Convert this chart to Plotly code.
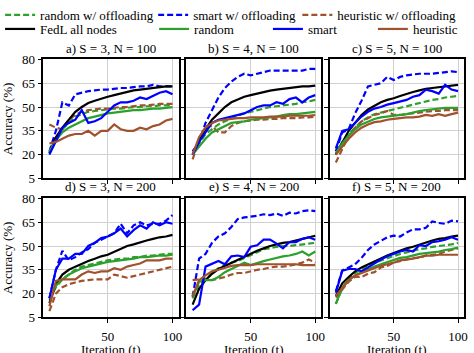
import plotly.graph_objects as go

# ---------------- data ----------------
T = [5, 10, 15, 20, 25, 30, 35, 40, 45, 50, 55, 60, 65, 70, 75, 80, 85, 90, 95, 100]

SERIES_NAMES = ["random w/ offloading", "smart w/ offloading", "heuristic w/ offloading",
                "FedL all nodes", "random", "smart", "heuristic"]
PANEL_TITLES = ["a) S = 3, N = 100", "b) S = 4, N = 100", "c) S = 5, N = 100",
                "d) S = 3, N = 200", "e) S = 4, N = 200", "f) S = 5, N = 200"]
Y_TICKS = [5, 20, 35, 50, 65, 80]
X_TICKS = [50, 100]
X_TITLE = "Iteration (t)"
Y_TITLE = "Accuracy (%)"

A_RANDOM_OFF = [21, 30, 36, 40, 44, 45.5, 47, 47.5, 48, 48.5, 49, 49, 49.5, 50, 50, 50.5, 50.5, 51, 51, 51]
A_SMART_OFF = [22, 35, 53, 51, 58, 59, 60, 60.5, 61, 61, 61.5, 62, 62, 62.5, 63, 63, 64, 63, 63, 63]
A_HEUR_OFF = [39, 37, 36, 42, 45, 47, 48, 48.5, 49, 49, 49.5, 50, 50, 50.5, 51, 51, 51.5, 52, 52, 52]
A_FEDL = [21, 31, 37, 42, 47, 50, 52.5, 54, 55.5, 56.5, 57.5, 58.5, 59.5, 60.5, 61, 61.5, 62, 62.5, 63, 63]
A_RANDOM = [22, 29, 34, 37, 39, 41, 43, 44, 45, 46, 46.5, 47, 47.5, 48, 48, 48.5, 49, 49, 49.5, 50]
A_SMART = [20, 28, 37, 40, 42, 48, 40, 41, 43, 47, 51, 53, 53, 54, 56, 55, 57, 59, 60, 58]
A_HEUR = [27, 28, 30, 32, 33, 33, 35, 32, 35, 35, 39, 36, 35, 35, 37, 36, 38, 39, 41.5, 42.5]

B_RANDOM_OFF = [20, 27, 33, 36, 39, 41, 43, 44.5, 46, 47, 48, 49, 50, 50.5, 51, 51.5, 52, 53, 53.5, 54.5]
B_SMART_OFF = [22, 28, 40, 48, 56, 62, 66, 69, 71, 70, 71, 72, 73, 73, 73, 73, 73, 73, 74, 74]
B_HEUR_OFF = [17, 29, 38, 38, 34, 34, 38, 40, 41, 41.5, 42, 42, 42.5, 42.5, 43, 43, 43, 43.5, 43.5, 44]
B_FEDL = [20, 29, 36, 42, 46, 50, 53, 55, 56.5, 57.5, 58.5, 59.5, 60.3, 61, 61.5, 62, 62.5, 63, 63, 63.5]
B_RANDOM = [20, 25, 30, 34, 36, 38, 40, 40.5, 41, 42, 42.5, 43, 43.5, 44, 45, 45.5, 45.5, 46, 46.5, 47]
B_SMART = [20, 28, 34, 40, 42, 43, 44, 45, 46, 48, 50, 51, 51, 53, 52, 55, 56, 53, 56, 57.5]
B_HEUR = [20, 31, 37, 40, 41.5, 42, 42.5, 43, 43, 43.5, 43.5, 43.5, 44, 44, 44, 44.5, 44.5, 44.5, 44.5, 45]

C_RANDOM_OFF = [20, 28, 33, 37, 41, 43.5, 45.5, 46.5, 47.5, 48.5, 49.5, 50.5, 51.5, 52.5, 53.5, 54.5, 55, 56, 56.5, 57]
C_SMART_OFF = [22, 34, 36, 46, 54, 63, 64, 65, 69, 67, 69, 70, 70.5, 71, 71, 71, 71.5, 72, 72.5, 72]
C_HEUR_OFF = [15, 24, 32, 37, 41, 43, 45, 46, 47.5, 45, 45, 45.5, 46, 46.5, 47, 47.5, 47.5, 48, 48, 48]
C_FEDL = [20, 28, 35, 40, 45, 48.5, 51, 53, 54.5, 55.5, 57, 58.5, 59.5, 60.5, 61.5, 62, 62.5, 63, 63.5, 64]
C_RANDOM = [21, 27, 32, 36, 39, 41, 42.5, 43.5, 44, 44.5, 45, 45.5, 46.5, 47.5, 48, 48.5, 49, 49.5, 49.5, 49.5]
C_SMART = [24, 35, 36, 40, 44, 47, 49, 50, 51.5, 52.5, 53.5, 54.5, 56.5, 57.5, 61, 60, 58.5, 64, 61, 60]
C_HEUR = [20, 25, 30, 34, 37, 39, 40.5, 41, 42, 42.5, 43, 43.5, 43.5, 44, 45, 44.5, 45.5, 44.5, 45.5, 46.5]

D_RANDOM_OFF = [16, 24, 29, 32, 35, 37, 38, 39, 40, 41, 41.5, 42, 42, 43, 43, 44, 44, 44.5, 45, 45]
D_SMART_OFF = [17, 35, 47, 41, 43, 46, 48, 52, 54, 56, 58, 64, 58, 63, 65, 63, 64, 64, 66, 69.5]
D_HEUR_OFF = [9, 20, 24, 26, 27, 28, 28.5, 29, 29, 29, 32, 31, 30, 31, 32, 33, 34, 35, 36, 37]
D_FEDL = [14, 26, 32, 35, 37, 39, 40.5, 42, 43.5, 44.5, 46.5, 48.5, 50, 51, 52.5, 53.5, 54.5, 55.5, 56, 57]
D_RANDOM = [17, 25, 29, 32, 34, 36, 37, 38, 39, 40, 40.5, 41, 41.5, 42, 43, 43, 43.5, 44, 44, 44.5]
D_SMART = [17, 35, 42, 42, 45, 45, 50, 52, 55, 56, 58, 61, 56, 60, 63, 61, 65, 63, 65, 64]
D_HEUR = [12, 28, 29, 29, 29, 32, 34, 33, 34, 34, 36, 35, 37, 38, 39, 41, 41, 41, 42, 42]

E_RANDOM_OFF = [17, 26, 28.5, 33, 36, 38, 39.5, 40.5, 42.5, 44.5, 46.5, 48, 48.5, 49.5, 50, 50, 50.5, 51, 51.5, 52]
E_SMART_OFF = [18, 42, 45, 52, 56, 58, 62, 67, 68, 68.5, 69, 70, 69.5, 70.5, 69, 71, 70.5, 72, 72.5, 72]
E_HEUR_OFF = [28.5, 29, 29.5, 28.5, 29.5, 30.5, 32, 33, 33, 34, 35, 35.5, 36.5, 37, 37, 37.5, 38.5, 39.5, 41.5, 39.5]
E_FEDL = [13, 23, 28.5, 32.5, 35.5, 37.5, 39.5, 41.5, 43, 45.5, 47, 48.5, 50, 51, 52, 52.5, 53.5, 54.5, 55.5, 56.5]
E_RANDOM = [18, 27.5, 28.5, 28.5, 30.5, 33.5, 35.5, 37.5, 39.5, 38, 39.5, 40.5, 41.5, 42.5, 43.5, 44, 45, 46.5, 44, 46.5]
E_SMART = [9.5, 13, 37, 38.5, 40.5, 38.5, 43.5, 44, 43, 49.5, 50.5, 54, 54, 51.5, 48.5, 52.5, 52.5, 54.5, 55.5, 54]
E_HEUR = [18.5, 28.5, 31.5, 34, 35, 36.5, 37.5, 38, 38, 38, 38.5, 38.5, 38.5, 38.5, 38.5, 38.5, 38.5, 38, 38, 38]

F_RANDOM_OFF = [13.5, 23.5, 29.5, 33, 35.5, 38, 39.5, 41, 42.5, 44, 45, 46, 47, 48, 48.5, 49.5, 50, 50.5, 51, 52]
F_SMART_OFF = [21.5, 34.5, 36.5, 38.5, 42.5, 47.5, 51, 53.5, 55.5, 56.5, 56, 58.5, 60.5, 60.5, 61.5, 65.5, 64.5, 64, 66, 65.5]
F_HEUR_OFF = [17.5, 22.5, 27.5, 30.5, 30.5, 32.5, 33.5, 36.5, 37.5, 39.5, 40.5, 41.5, 42.5, 42.5, 44, 44.5, 45, 46.5, 47.5, 48.5]
F_FEDL = [18.5, 26.5, 30.5, 34, 36.5, 38.5, 40.5, 42.5, 44, 45.5, 47, 48.5, 49.5, 51, 52.5, 53.5, 54.5, 55, 56, 56.5]
F_RANDOM = [13.5, 23.5, 28.5, 31.5, 33.5, 35.5, 37, 38.5, 40, 41.5, 42.5, 43, 44, 45, 45.5, 46, 46.5, 47.5, 48, 49]
F_SMART = [20.5, 34.5, 35.5, 35.5, 34, 36.5, 39.5, 41.5, 43.5, 45, 46.5, 47.5, 46.5, 50.5, 50, 52.5, 53, 54, 55.5, 54]
F_HEUR = [18.5, 23.5, 28.5, 31.5, 33, 35, 36.5, 37.5, 38.5, 39.5, 41, 41.5, 42, 43, 44, 44, 44.5, 44.5, 44.5, 44.5]

PANELS = [
    [A_RANDOM_OFF, A_SMART_OFF, A_HEUR_OFF, A_FEDL, A_RANDOM, A_SMART, A_HEUR],
    [B_RANDOM_OFF, B_SMART_OFF, B_HEUR_OFF, B_FEDL, B_RANDOM, B_SMART, B_HEUR],
    [C_RANDOM_OFF, C_SMART_OFF, C_HEUR_OFF, C_FEDL, C_RANDOM, C_SMART, C_HEUR],
    [D_RANDOM_OFF, D_SMART_OFF, D_HEUR_OFF, D_FEDL, D_RANDOM, D_SMART, D_HEUR],
    [E_RANDOM_OFF, E_SMART_OFF, E_HEUR_OFF, E_FEDL, E_RANDOM, E_SMART, E_HEUR],
    [F_RANDOM_OFF, F_SMART_OFF, F_HEUR_OFF, F_FEDL, F_RANDOM, F_SMART, F_HEUR],
]

# ---------------- style ----------------
W, H = 474, 353
FONT = '"Liberation Serif", "Times New Roman", Times, serif'
GREEN, BLUE, BROWN, BLACK = "#2ca02c", "#0000ff", "#a0522d", "#000000"
DASH = "6px,3px"
STYLES = [(GREEN, DASH), (BLUE, DASH), (BROWN, DASH), (BLACK, "solid"),
          (GREEN, "solid"), (BLUE, "solid"), (BROWN, "solid")]

X_DOM_PX = [(39, 177), (185, 322.5), (331, 468)]
Y_DOM_PX = [(53, 178), (199, 324)]
TITLE_Y_PX = [42, 187]
XTITLE_TOP_PX = 348
LEGEND_POS_PX = [(-5, 6), (151, 6), (298, 6), (-5, 21), (152, 21), (268, 21), (375, 21)]

fig = go.Figure()
for k, series in enumerate(PANELS):
    idx = k + 1
    xa = "x" if idx == 1 else f"x{idx}"
    ya = "y" if idx == 1 else f"y{idx}"
    for s, vals in enumerate(series):
        color, dash = STYLES[s]
        lg = "legend" if s == 0 else f"legend{s + 1}"
        fig.add_trace(go.Scatter(
            x=T, y=vals, mode="lines", name=SERIES_NAMES[s],
            line=dict(color=color, width=2.2, dash=dash),
            xaxis=xa, yaxis=ya, legend=lg, showlegend=(k == 0),
        ))

layout = dict(
    width=W, height=H, margin=dict(l=0, r=0, t=0, b=0),
    paper_bgcolor="white", plot_bgcolor="white",
    font=dict(family=FONT, size=13, color="black"),
)
for k in range(6):
    idx = k + 1
    row, col = divmod(k, 3)
    x0, x1 = X_DOM_PX[col]
    y0, y1 = Y_DOM_PX[row]
    xname = "xaxis" if idx == 1 else f"xaxis{idx}"
    yname = "yaxis" if idx == 1 else f"yaxis{idx}"
    xa = "x" if idx == 1 else f"x{idx}"
    ya = "y" if idx == 1 else f"y{idx}"
    common = dict(showline=True, linecolor="black", linewidth=1.5, mirror=True,
                  ticks="outside", ticklen=4, tickwidth=1, tickcolor="black",
                  showgrid=True, gridcolor="#d0d0d0", gridwidth=1, zeroline=False,
                  tickfont=dict(family=FONT, size=13, color="black"))
    layout[xname] = dict(
        common, domain=[x0 / W, x1 / W], anchor=ya,
        range=[0.25, 104.75], tickmode="array", tickvals=X_TICKS,
        showticklabels=(row == 1), ticklabelstandoff=2,
    )
    layout[yname] = dict(
        common, domain=[1 - y1 / H, 1 - y0 / H], anchor=xa,
        range=[5, 80], tickmode="array", tickvals=Y_TICKS,
        showticklabels=(col == 0),
        title=dict(text=Y_TITLE if col == 0 else "", standoff=6,
                   font=dict(family=FONT, size=13)),
    )

annotations = []
for k, title in enumerate(PANEL_TITLES):
    row, col = divmod(k, 3)
    x0, x1 = X_DOM_PX[col]
    annotations.append(dict(
        text=title, xref="paper", yref="paper",
        x=(x0 + x1) / 2 / W, y=1 - TITLE_Y_PX[row] / H,
        xanchor="center", yanchor="middle", showarrow=False,
        font=dict(family=FONT, size=13, color="black"),
    ))
for col in range(3):
    x0, x1 = X_DOM_PX[col]
    annotations.append(dict(
        text=X_TITLE, xref="paper", yref="paper",
        x=(x0 + x1) / 2 / W, y=1 - XTITLE_TOP_PX / H,
        xanchor="center", yanchor="top", showarrow=False,
        font=dict(family=FONT, size=13, color="black"),
    ))
layout["annotations"] = annotations

for s, (px, py) in enumerate(LEGEND_POS_PX):
    lg = "legend" if s == 0 else f"legend{s + 1}"
    layout[lg] = dict(
        x=px / W, y=1 - py / H, xanchor="left", yanchor="middle",
        orientation="h", bgcolor="rgba(0,0,0,0)", borderwidth=0,
        font=dict(family=FONT, size=13, color="black"), itemwidth=30,
    )

fig.update_layout(**layout)
fig.write_html("out.html")
